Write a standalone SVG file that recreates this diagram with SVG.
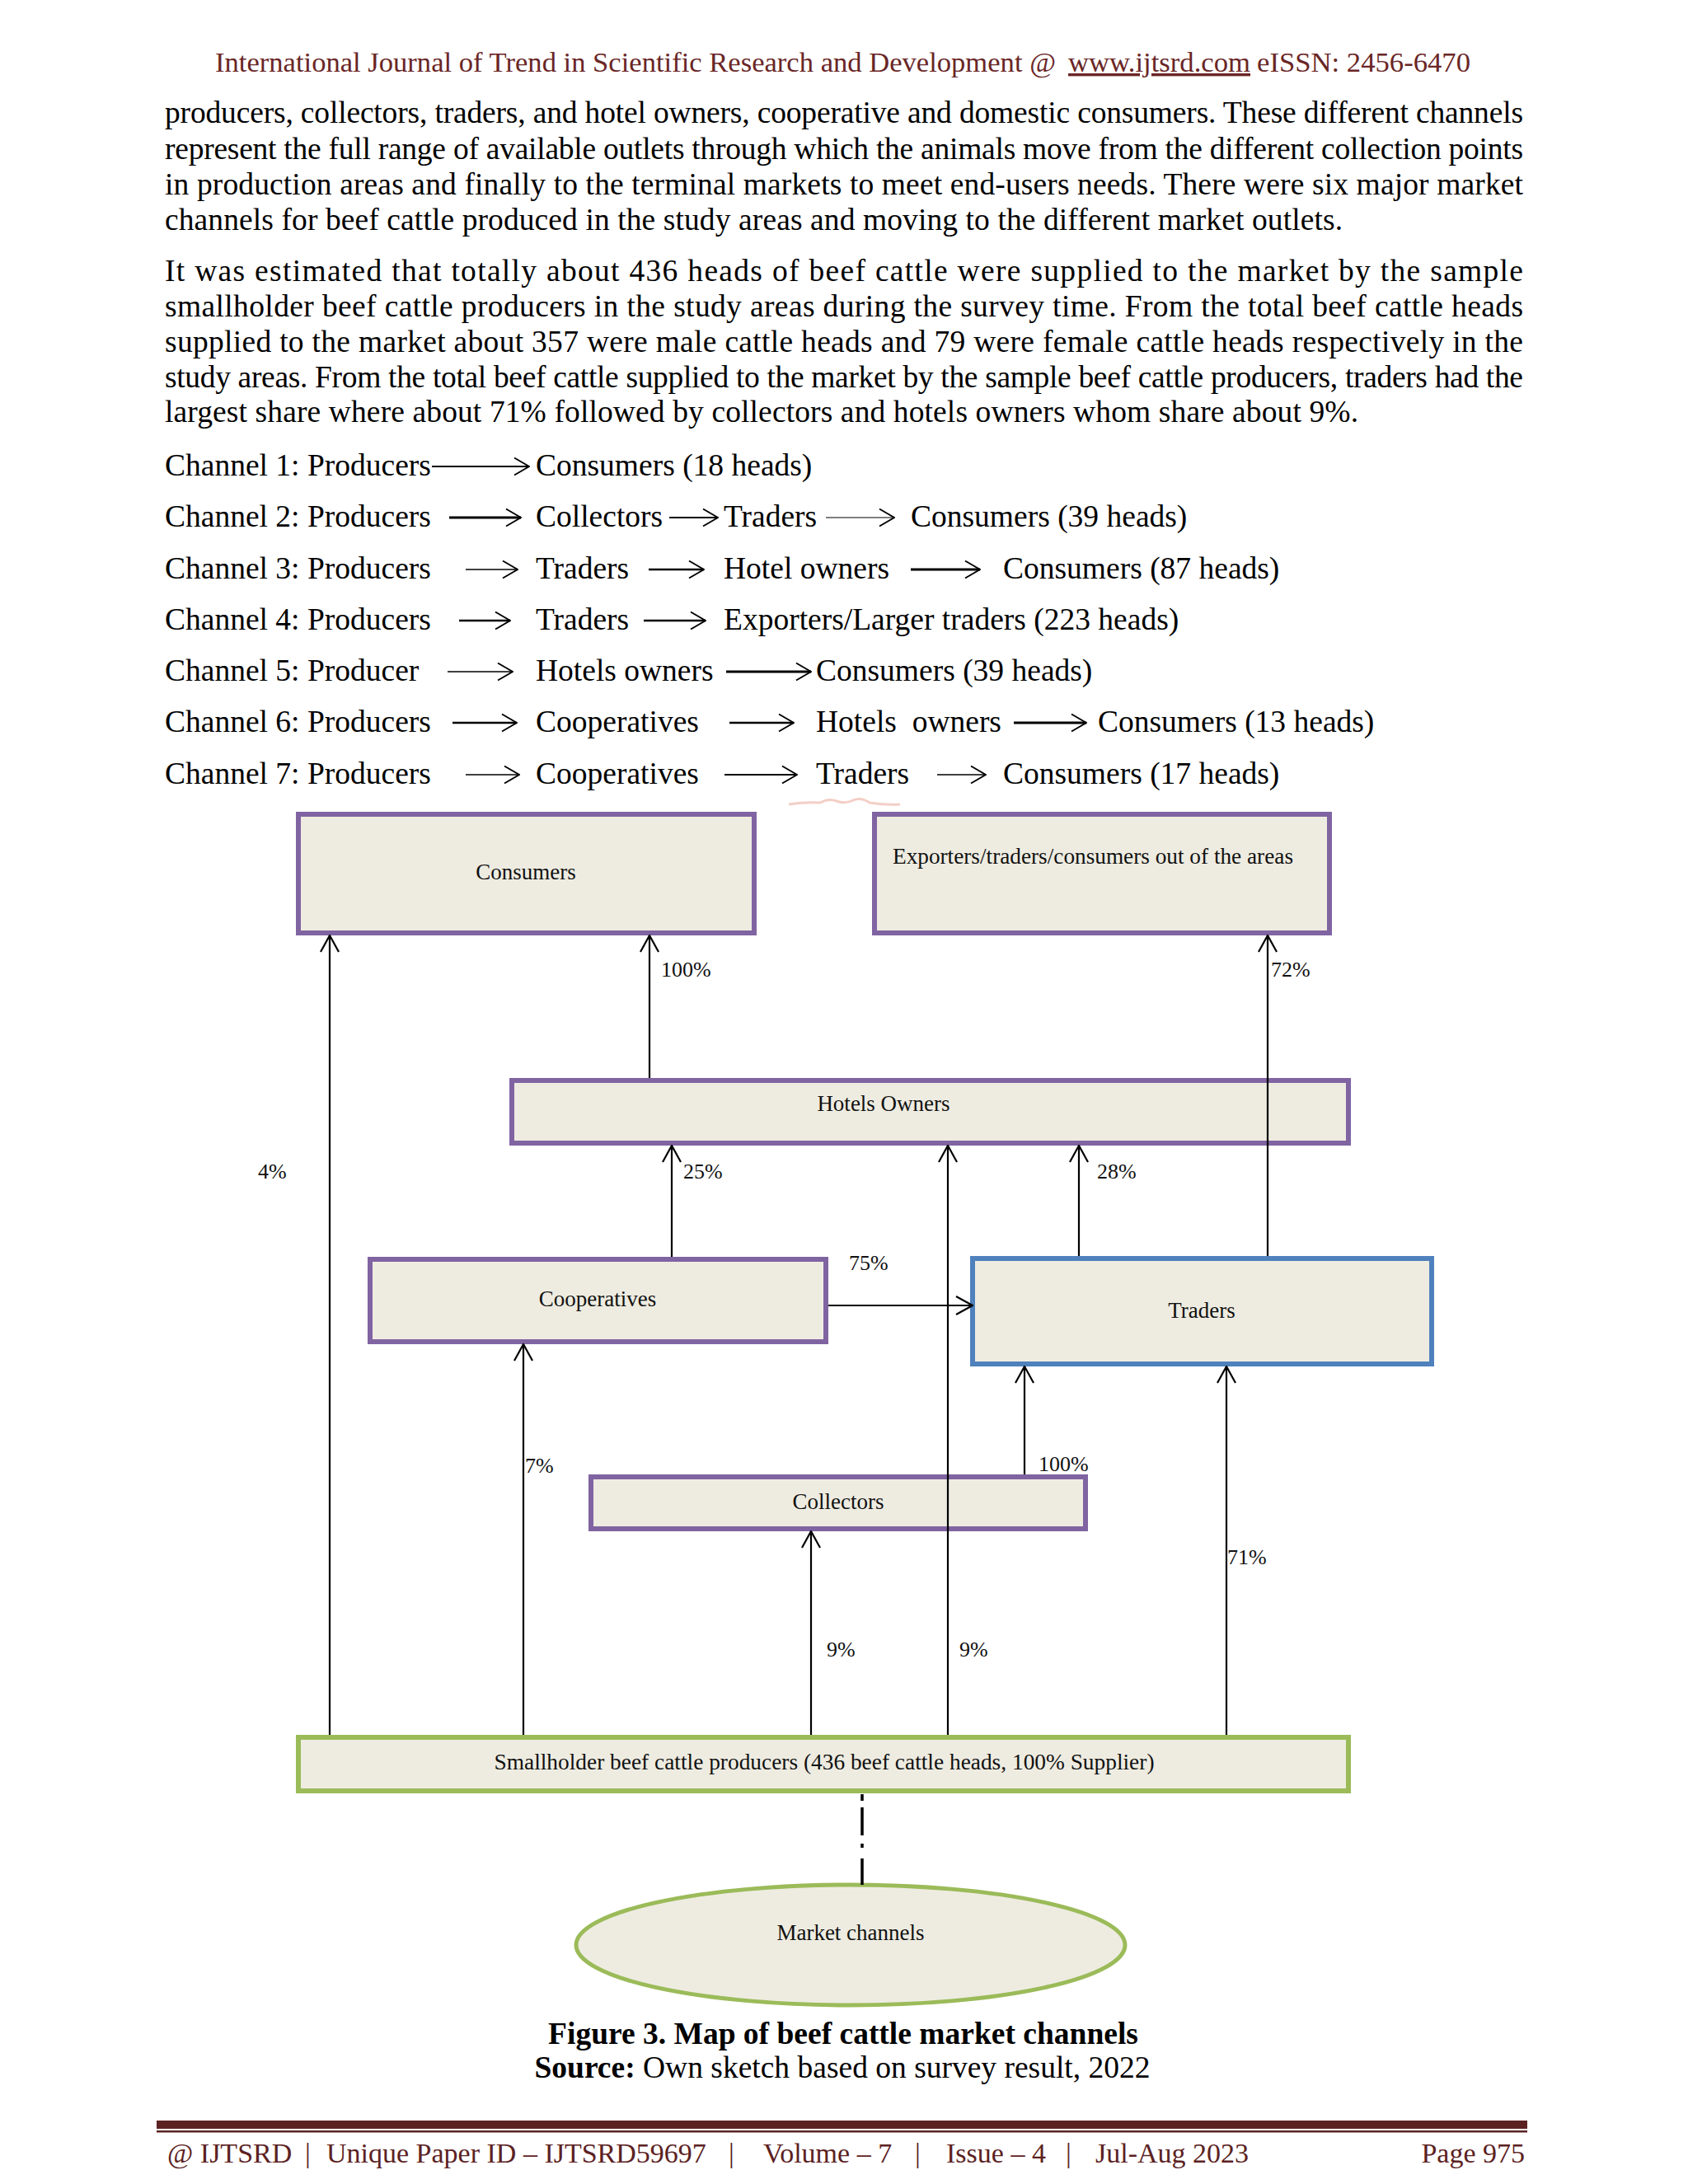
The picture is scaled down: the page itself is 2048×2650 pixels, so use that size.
<svg xmlns="http://www.w3.org/2000/svg" width="2048" height="2650" viewBox="0 0 2048 2650">
<style>
  .serif { font-family: "Liberation Serif", "Times New Roman", serif; }
  .hdr { font-family: "Liberation Serif", "Times New Roman", serif; font-size: 34px; fill: #6a2626; }
  .body { font-family: "Liberation Serif", "Times New Roman", serif; font-size: 37.5px; fill: #000; }
  .node { fill: #EEECE1; stroke-width: 6; }
  .purple { stroke: #8064A2; }
  .blue { stroke: #4F81BD; }
  .green { stroke: #9BBB59; }
  .ntext { font-family: "Liberation Serif", "Times New Roman", serif; font-size: 27px; fill: #111; }
  .lbl { font-family: "Liberation Serif", "Times New Roman", serif; font-size: 26px; fill: #111; }
  .conn { stroke: #000; stroke-width: 2.2; fill: none; marker-end: url(#arr); }
  .charr { stroke: #000; fill: none; marker-end: url(#charr); }
  .cap { font-family: "Liberation Serif", "Times New Roman", serif; font-size: 37.5px; fill: #000; }
  .foot { font-family: "Liberation Serif", "Times New Roman", serif; font-size: 34px; fill: #5c2222; }
</style>
<defs>
  <marker id="arr" viewBox="0 0 22 24" refX="21" refY="12" markerWidth="22" markerHeight="24" markerUnits="userSpaceOnUse" orient="auto">
    <path d="M1,1 L21,12 L1,23" fill="none" stroke="#000" stroke-width="2.2"/>
  </marker>
  <marker id="charr" viewBox="0 0 20 24" refX="19" refY="12" markerWidth="20" markerHeight="24" markerUnits="userSpaceOnUse" orient="auto">
    <path d="M1,1.5 L19,12 L1,22.5" fill="none" stroke="#000" stroke-width="2"/>
  </marker>
</defs>
<rect width="2048" height="2650" fill="#fff"/>

<!-- Header -->
<g id="header">
  <text class="hdr" x="261" y="87" textLength="1020" lengthAdjust="spacingAndGlyphs">International Journal of Trend in Scientific Research and Development @</text>
  <text class="hdr" x="1296" y="87" textLength="221" lengthAdjust="spacingAndGlyphs" text-decoration="underline">www.ijtsrd.com</text>
  <text class="hdr" x="1525" y="87" textLength="259" lengthAdjust="spacingAndGlyphs">eISSN: 2456-6470</text>
</g>

<!-- Body text -->
<g id="body-text">
  <text class="body" x="200" y="149" textLength="1648" lengthAdjust="spacing">producers, collectors, traders, and hotel owners, cooperative and domestic consumers. These different channels</text>
  <text class="body" x="200" y="193" textLength="1648" lengthAdjust="spacing">represent the full range of available outlets through which the animals move from the different collection points</text>
  <text class="body" x="200" y="236" textLength="1648" lengthAdjust="spacing">in production areas and finally to the terminal markets to meet end-users needs. There were six major market</text>
  <text class="body" x="200" y="279" textLength="1429" lengthAdjust="spacing">channels for beef cattle produced in the study areas and moving to the different market outlets.</text>
  <text class="body" x="200" y="341" textLength="1648" lengthAdjust="spacing">It was estimated that totally about 436 heads of beef cattle were supplied to the market by the sample</text>
  <text class="body" x="200" y="384" textLength="1648" lengthAdjust="spacing">smallholder beef cattle producers in the study areas during the survey time. From the total beef cattle heads</text>
  <text class="body" x="200" y="427" textLength="1648" lengthAdjust="spacing">supplied to the market about 357 were male cattle heads and 79 were female cattle heads respectively in the</text>
  <text class="body" x="200" y="470" textLength="1648" lengthAdjust="spacing">study areas. From the total beef cattle supplied to the market by the sample beef cattle producers, traders had the</text>
  <text class="body" x="200" y="512" textLength="1448" lengthAdjust="spacing">largest share where about 71% followed by collectors and hotels owners whom share about 9%.</text>
</g>

<!-- Channel list -->
<g id="channel-text">
  <text class="body" x="200" y="577">Channel 1: Producers</text>
  <text class="body" x="650" y="577">Consumers (18 heads)</text>

  <text class="body" x="200" y="639">Channel 2: Producers</text>
  <text class="body" x="650" y="639">Collectors</text>
  <text class="body" x="878" y="639">Traders</text>
  <text class="body" x="1105" y="639">Consumers (39 heads)</text>

  <text class="body" x="200" y="702">Channel 3: Producers</text>
  <text class="body" x="650" y="702">Traders</text>
  <text class="body" x="878" y="702">Hotel owners</text>
  <text class="body" x="1217" y="702">Consumers (87 heads)</text>

  <text class="body" x="200" y="764">Channel 4: Producers</text>
  <text class="body" x="650" y="764">Traders</text>
  <text class="body" x="878" y="764">Exporters/Larger traders (223 heads)</text>

  <text class="body" x="200" y="826">Channel 5: Producer</text>
  <text class="body" x="650" y="826">Hotels owners</text>
  <text class="body" x="990" y="826">Consumers (39 heads)</text>

  <text class="body" x="200" y="888">Channel 6: Producers</text>
  <text class="body" x="650" y="888">Cooperatives</text>
  <text class="body" x="990" y="888" xml:space="preserve">Hotels  owners</text>
  <text class="body" x="1332" y="888">Consumers (13 heads)</text>

  <text class="body" x="200" y="951">Channel 7: Producers</text>
  <text class="body" x="650" y="951">Cooperatives</text>
  <text class="body" x="990" y="951">Traders</text>
  <text class="body" x="1217" y="951">Consumers (17 heads)</text>
</g>

<g id="channel-arrows">
  <line class="charr" x1="524" y1="566" x2="642" y2="566" stroke-width="2"/>

  <line class="charr" x1="545" y1="628" x2="632" y2="628" stroke-width="3"/>
  <line class="charr" x1="812" y1="628" x2="871" y2="628" stroke-width="2"/>
  <line class="charr" x1="1002" y1="628" x2="1085" y2="628" stroke-width="1.2" stroke="#555"/>

  <line class="charr" x1="565" y1="691" x2="628" y2="691" stroke-width="1.3"/>
  <line class="charr" x1="787" y1="691" x2="854" y2="691" stroke-width="2.5"/>
  <line class="charr" x1="1105" y1="691" x2="1189" y2="691" stroke-width="3"/>

  <line class="charr" x1="557" y1="753" x2="619" y2="753" stroke-width="2.5"/>
  <line class="charr" x1="781" y1="753" x2="856" y2="753" stroke-width="2.5"/>

  <line class="charr" x1="543" y1="815" x2="622" y2="815" stroke-width="1.5"/>
  <line class="charr" x1="881" y1="815" x2="984" y2="815" stroke-width="3"/>

  <line class="charr" x1="549" y1="877" x2="627" y2="877" stroke-width="2.5"/>
  <line class="charr" x1="885" y1="877" x2="963" y2="877" stroke-width="2.5"/>
  <line class="charr" x1="1230" y1="877" x2="1318" y2="877" stroke-width="3"/>

  <line class="charr" x1="565" y1="940" x2="630" y2="940" stroke-width="1.4"/>
  <line class="charr" x1="879" y1="940" x2="967" y2="940" stroke-width="2"/>
  <line class="charr" x1="1137" y1="940" x2="1196" y2="940" stroke-width="1.5"/>
</g>

<!-- faint artifact -->
<path d="M957,976 Q975,973 995,974 Q1005,968 1015,972 Q1025,976 1035,971 Q1045,967 1055,974 Q1075,977 1092,976" fill="none" stroke="#f3cfc6" stroke-width="3"/>

<!-- Nodes -->
<g id="node-consumers">
  <rect class="node purple" x="362" y="988" width="553" height="144"/>
  <text class="ntext" x="638" y="1067" text-anchor="middle">Consumers</text>
</g>
<g id="node-exporters">
  <rect class="node purple" x="1061" y="988" width="552" height="144"/>
  <text class="ntext" x="1083" y="1048" textLength="486" lengthAdjust="spacingAndGlyphs">Exporters/traders/consumers out of the areas</text>
</g>
<g id="node-hotels">
  <rect class="node purple" x="621" y="1311" width="1015" height="76"/>
  <text class="ntext" x="1072" y="1348" text-anchor="middle">Hotels Owners</text>
</g>
<g id="node-cooperatives">
  <rect class="node purple" x="449" y="1528" width="553" height="100"/>
  <text class="ntext" x="725" y="1585" text-anchor="middle">Cooperatives</text>
</g>
<g id="node-traders">
  <rect class="node blue" x="1180" y="1527" width="557" height="128"/>
  <text class="ntext" x="1458" y="1599" text-anchor="middle">Traders</text>
</g>
<g id="node-collectors">
  <rect class="node purple" x="717" y="1792" width="600" height="63"/>
  <text class="ntext" x="1017" y="1831" text-anchor="middle">Collectors</text>
</g>
<g id="node-producers">
  <rect class="node green" x="362" y="2108" width="1274" height="65"/>
  <text class="ntext" x="1000" y="2147" text-anchor="middle" textLength="801" lengthAdjust="spacingAndGlyphs">Smallholder beef cattle producers (436 beef cattle heads, 100% Supplier)</text>
</g>
<g id="node-market">
  <ellipse cx="1032" cy="2360" rx="333" ry="73" fill="#EEECE1" stroke="#9BBB59" stroke-width="5"/>
  <text class="ntext" x="1032" y="2354" text-anchor="middle">Market channels</text>
</g>

<!-- Connectors -->
<g id="connectors">
  <line class="conn" x1="400" y1="2105" x2="400" y2="1135"/>
  <line class="conn" x1="635" y1="2105" x2="635" y2="1631"/>
  <line class="conn" x1="984" y1="2105" x2="984" y2="1858"/>
  <line class="conn" x1="1150" y1="2105" x2="1150" y2="1390"/>
  <line class="conn" x1="1488" y1="2105" x2="1488" y2="1658"/>
  <line class="conn" x1="1243" y1="1789" x2="1243" y2="1658"/>
  <line class="conn" x1="815" y1="1525" x2="815" y2="1390"/>
  <line class="conn" x1="1005" y1="1584" x2="1180" y2="1584" stroke-width="3.5"/>
  <line class="conn" x1="1309" y1="1524" x2="1309" y2="1390"/>
  <line class="conn" x1="1538" y1="1524" x2="1538" y2="1135"/>
  <line class="conn" x1="788" y1="1308" x2="788" y2="1135"/>
  <line x1="1046" y1="2177" x2="1046" y2="2287" stroke="#000" stroke-width="3.5" stroke-dasharray="8 8 34 10 5 13 32"/>
</g>

<g id="connector-labels">
  <text class="lbl" x="802" y="1185">100%</text>
  <text class="lbl" x="1542" y="1185">72%</text>
  <text class="lbl" x="313" y="1430">4%</text>
  <text class="lbl" x="829" y="1430">25%</text>
  <text class="lbl" x="1331" y="1430">28%</text>
  <text class="lbl" x="1030" y="1541">75%</text>
  <text class="lbl" x="637" y="1787">7%</text>
  <text class="lbl" x="1260" y="1785">100%</text>
  <text class="lbl" x="1489" y="1898">71%</text>
  <text class="lbl" x="1003" y="2010">9%</text>
  <text class="lbl" x="1164" y="2010">9%</text>
</g>

<!-- Caption -->
<g id="caption">
  <text class="cap" x="1023" y="2480" text-anchor="middle" font-weight="bold">Figure 3. Map of beef cattle market channels</text>
  <text class="cap" x="1022" y="2521" text-anchor="middle"><tspan font-weight="bold">Source:</tspan> Own sketch based on survey result, 2022</text>
</g>

<!-- Footer -->
<g id="footer">
  <rect x="190" y="2573" width="1663" height="10" fill="#5c2222"/>
  <rect x="190" y="2585" width="1663" height="2.5" fill="#5c2222"/>
  <text class="foot" x="203" y="2624">@ IJTSRD</text>
  <text class="foot" x="370" y="2624">|</text>
  <text class="foot" x="396" y="2624">Unique Paper ID – IJTSRD59697</text>
  <text class="foot" x="884" y="2624">|</text>
  <text class="foot" x="926" y="2624">Volume – 7</text>
  <text class="foot" x="1110" y="2624">|</text>
  <text class="foot" x="1148" y="2624">Issue – 4</text>
  <text class="foot" x="1293" y="2624">|</text>
  <text class="foot" x="1329" y="2624">Jul-Aug 2023</text>
  <text class="foot" x="1850" y="2624" text-anchor="end">Page 975</text>
</g>
</svg>
